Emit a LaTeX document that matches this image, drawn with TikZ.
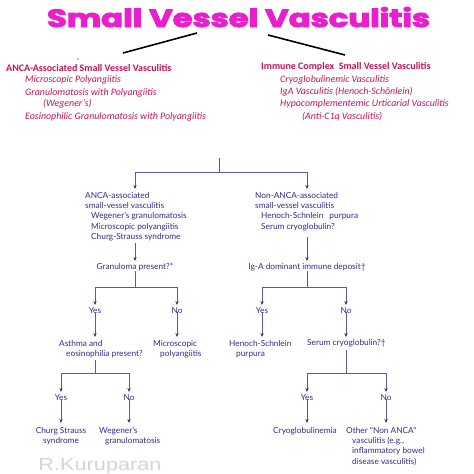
\documentclass[tikz,border=0pt]{standalone}
\usepackage{fontspec}
\usepackage{graphicx}
\usetikzlibrary{arrows.meta}
\newfontfamily\titlefont{Poppins}[BoldFeatures={FakeBold=3.5}]
\newfontfamily\hdrfont{Carlito}
\newfontfamily\fcfont{Lato}
\newfontfamily\sigfont{Liberation Sans}
\definecolor{titlemag}{RGB}{235,30,205}
\definecolor{hdr}{RGB}{200,18,88}
\definecolor{fc}{RGB}{55,40,140}
\definecolor{fl}{RGB}{90,90,160}
\definecolor{sig}{RGB}{218,210,218}
\tikzset{
  hdrtxt/.style={anchor=west, inner sep=0pt, text=hdr, font=\hdrfont\bfseries\fontsize{10}{11}\selectfont},
  itemtxt/.style={anchor=west, inner sep=0pt, text=hdr, font=\hdrfont\itshape\fontsize{9.9}{11}\selectfont},
  fctxt/.style={inner sep=0pt, text=fc, font=\fcfont\fontsize{8.3}{10.3}\selectfont},
  fcblock/.style={fctxt, anchor=north west, align=left},
  flow/.style={draw=fl, line width=0.7pt},
  arr/.style={flow, -{Stealth[length=4pt,width=3.2pt,fill=fc,color=fc]}},
  splitline/.style={draw=black, line width=1.6pt}
}
\begin{document}
\begin{tikzpicture}[x=1pt,y=-1pt]
\useasboundingbox[fill=white] (0,0) rectangle (474,474);
% title
\node[anchor=base, inner sep=0pt, text=titlemag] (title) at (238.5,27)
  {\resizebox{383pt}{20pt}{\titlefont\bfseries Small Vessel Vasculitis}};
\coordinate (tl1) at (197,33);
\coordinate (tl2) at (123,53);
\coordinate (tr1) at (268,35);
\coordinate (tr2) at (345,55);
\draw[splitline] (tl1) -- (tl2);
\draw[splitline] (tr1) -- (tr2);
\fill[black] (78,59) circle (0.6);
% left header
\node[hdrtxt] (ah) at (6,68) {ANCA-Associated Small Vessel Vasculitis};
\node[itemtxt] (a1) at (25,80) {Microscopic Polyangiitis};
\node[itemtxt] (a2) at (25,93) {Granulomatosis with Polyangiitis};
\node[itemtxt] (a3) at (43,104) {(Wegener’s)};
\node[itemtxt] (a4) at (25,117) {Eosinophilic Granulomatosis with Polyangiitis};
% right header
\node[hdrtxt] (ih) at (261,67) {Immune Complex\ \ Small Vessel Vasculitis};
\node[itemtxt] (i1) at (280,80) {Cryoglobulinemic Vasculitis};
\node[itemtxt] (i2) at (280,92) {IgA Vasculitis (Henoch-Schönlein)};
\node[itemtxt] (i3) at (280,104) {Hypocomplementemic Urticarial Vasculitis};
\node[itemtxt] (i4) at (302,117) {(Anti-C1q Vasculitis)};
% flow chart
\coordinate (top) at (219,158);
\coordinate (s0) at (219,172);
\coordinate (t0l) at (135,189);
\coordinate (t0r) at (307,189);
\draw[flow] (top) -- (s0);
\draw[arr] (s0) -| (t0l);
\draw[arr] (s0) -| (t0r);
\node[fcblock] (anca) at (85,192) {ANCA-associated\\small-vessel vasculitis\\\hspace{6pt}Wegener’s granulomatosis\\\hspace{6pt}Microscopic polyangiitis\\\hspace{6pt}Churg-Strauss syndrome};
\node[fcblock] (nonanca) at (255,192) {Non-ANCA-associated\\small-vessel vasculitis\\\hspace{6pt}Henoch-Schnlein\hspace{6pt}purpura\\\hspace{6pt}Serum cryoglobulin?};
% left branch
\coordinate (a0) at (135,243);
\coordinate (gtip) at (135,261);
\draw[arr] (a0) -- (gtip);
\node[fctxt] (gran) at (135,267) {Granuloma present?*};
\coordinate (g0) at (135,287);
\draw[flow] (gran.south) -- (g0);
\coordinate (gyt) at (95,305);
\coordinate (gnt) at (177,305);
\draw[arr] (g0) -| (gyt);
\draw[arr] (g0) -| (gnt);
\node[fctxt] (gyes) at (95,311) {Yes};
\node[fctxt] (gno) at (177,311) {No};
\coordinate (asttip) at (95,337);
\coordinate (mictip) at (177,337);
\draw[arr] ([yshift=2pt]gyes.south) -- (asttip);
\draw[arr] ([yshift=2pt]gno.south) -- (mictip);
\node[fcblock] (asthma) at (59,340) {Asthma and\\\hspace{7pt}eosinophilia present?};
\node[fcblock] (micro) at (153,340) {Microscopic\\\hspace{7pt}polyangiitis};
\coordinate (as0) at (95,360);
\coordinate (as1) at (95,373);
\draw[flow] (as0) -- (as1);
\coordinate (ayt) at (61,392);
\coordinate (ant) at (129,392);
\draw[arr] (as1) -| (ayt);
\draw[arr] (as1) -| (ant);
\node[fctxt] (ayes) at (61,398) {Yes};
\node[fctxt] (ano) at (129,398) {No};
\coordinate (cst) at (61,423);
\coordinate (wgt) at (129,423);
\draw[arr] ([yshift=2pt]ayes.south) -- (cst);
\draw[arr] ([yshift=2pt]ano.south) -- (wgt);
\node[fctxt, anchor=north, align=center] (churg) at (61,427) {Churg Strauss\\syndrome};
\node[fcblock] (weg) at (99,427) {Wegener’s\\\hspace{6pt}granulomatosis};
% right branch
\coordinate (n0) at (307,237);
\coordinate (igtip) at (307,261);
\draw[arr] (n0) -- (igtip);
\node[fctxt] (iga) at (307,267) {Ig-A dominant immune deposit\textdagger};
\coordinate (ig0) at (307,287);
\draw[flow] (iga.south) -- (ig0);
\coordinate (iyt) at (262,305);
\coordinate (int) at (346,305);
\draw[arr] (ig0) -| (iyt);
\draw[arr] (ig0) -| (int);
\node[fctxt] (iyes) at (262,311) {Yes};
\node[fctxt] (ino) at (346,311) {No};
\coordinate (hstip) at (262,337);
\coordinate (sctip) at (346,337);
\draw[arr] ([yshift=2pt]iyes.south) -- (hstip);
\draw[arr] ([yshift=2pt]ino.south) -- (sctip);
\node[fcblock] (hsp) at (229,340) {Henoch-Schnlein\\\hspace{7pt}purpura};
\node[fctxt, anchor=west] (serum) at (307,343) {Serum cryoglobulin?\textdagger};
\coordinate (sc0) at (346,350);
\coordinate (sc1) at (346,373);
\draw[flow] (sc0) -- (sc1);
\coordinate (syt) at (307,392);
\coordinate (snt) at (386,392);
\draw[arr] (sc1) -| (syt);
\draw[arr] (sc1) -| (snt);
\node[fctxt] (syes) at (307,398) {Yes};
\node[fctxt] (sno) at (386,398) {No};
\coordinate (crt) at (307,423);
\coordinate (ott) at (386,423);
\draw[arr] ([yshift=2pt]syes.south) -- (crt);
\draw[arr] ([yshift=2pt]sno.south) -- (ott);
\node[fctxt, anchor=north] (cryo) at (305,427) {Cryoglobulinemia};
\node[fcblock] (other) at (346,427) {Other "Non ANCA"\\\hspace{6pt}vasculitis (e.g.,\\\hspace{6pt}inflammatory bowel\\\hspace{6pt}disease vasculitis)};
% signature
\node[anchor=base, inner sep=0pt, text=sig] (sign) at (100,470)
  {\resizebox{123pt}{12pt}{\sigfont R.Kuruparan}};
\end{tikzpicture}
\end{document}
